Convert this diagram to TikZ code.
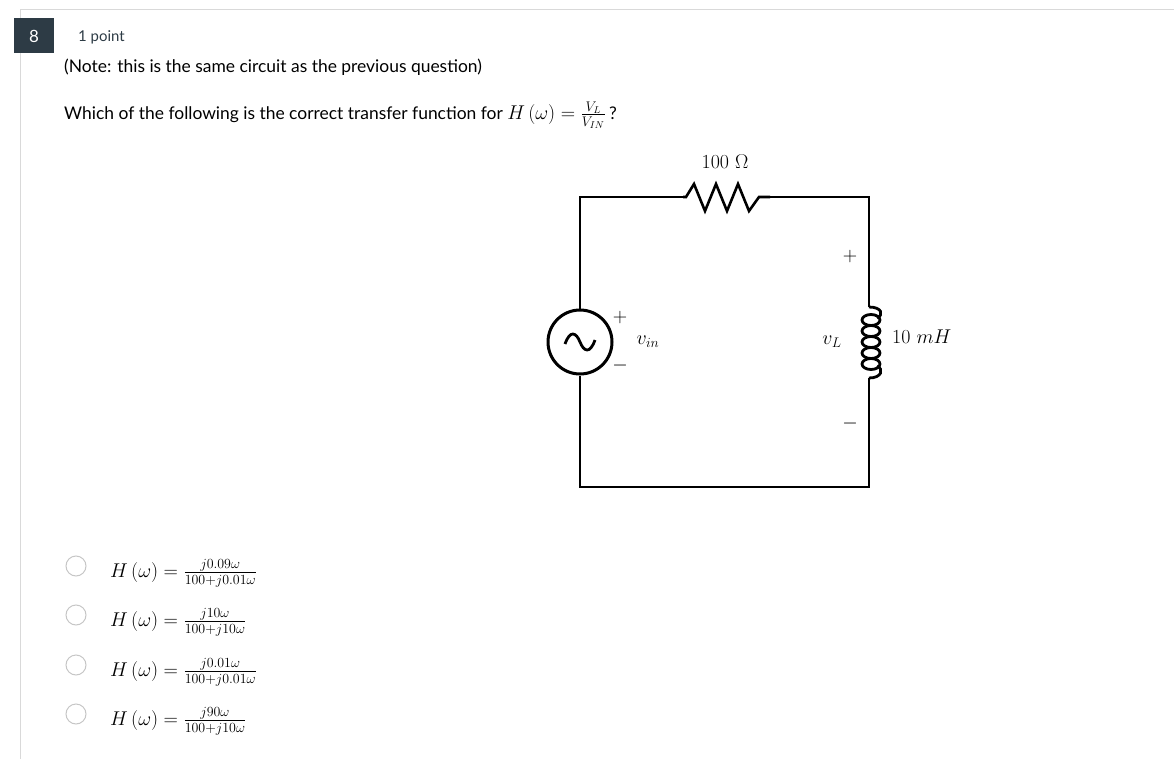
\RequirePackage{fix-cm}
\documentclass[tikz,border=0pt]{standalone}
\usepackage{fontspec}
\usepackage{amsmath}
\newfontfamily\lato{Lato}
\begin{document}
\begin{tikzpicture}[x=1bp,y=-1bp,
  ui/.style={font=\lato\fontsize{17.5}{20}\selectfont,anchor=west,inner sep=0},
  wire/.style={line width=1.8bp,black},
  lbl/.style={font=\fontsize{20}{22}\selectfont,inner sep=0},
  radio/.style={draw=gray!45,line width=1bp,circle,minimum size=20bp,inner sep=0},
  opt/.style={font=\fontsize{20}{22}\selectfont,anchor=west,inner sep=0}]
\useasboundingbox (0,0) rectangle (1174,759);
\draw[gray!30,line width=1bp] (20,10) -- (1174,10);
\draw[gray!30,line width=1bp] (20,10) -- (20,759);
\node[fill={rgb,255:red,45;green,59;blue,69},minimum width=40bp,minimum height=35bp,inner sep=0,text=white,font=\lato\fontsize{17}{18}\selectfont] (num) at (34,36) {8};
\node[ui,text={rgb,255:red,45;green,59;blue,69}] (pt) at (78,37) {\fontsize{15}{16}\selectfont 1 point};
\node[ui] (note) at (64,67) {(Note: this is the same circuit as the previous question)};
\node[ui] (q) at (64,115) {Which of the following is the correct transfer function for \fontsize{20}{22}\selectfont $H\left(\omega\right)=\frac{V_L}{V_{IN}}$\,\lato\fontsize{17.5}{20}\selectfont ?};
% circuit
\coordinate (tl) at (580,197); \coordinate (tr) at (869,197);
\coordinate (bl) at (580,487); \coordinate (br) at (869,487);
\coordinate (r1) at (683,197); \coordinate (r2) at (770,197);
\node[draw,circle,line width=3bp,minimum size=64bp,inner sep=0] (src) at (580,342) {};
\draw[line width=2.8bp] (565,344) .. controls (570,330) and (576,332) .. (580,342) .. controls (584,352) and (590,354) .. (595,340);
\coordinate (l1) at (869,307); \coordinate (l2) at (869,378);
\draw[wire] (src.north) -- (tl) -- (r1);
\draw[line width=2.6bp,line join=miter] (r1) -- (686,197) -- (694,184) -- (705,211) -- (716,184) -- (727,211) -- (738,184) -- (749,211) -- (759,197) -- (r2);
\draw[wire] (r2) -- (tr) -- (l1);
\draw[wire] (l2) -- (br) -- (bl) -- (src.south);
\draw[line width=2.8bp] (l1) .. controls (882,307) and (884,315) .. (877,318);
\foreach \y in {320,331,342,353,364} \draw[line width=2.8bp] (871,\y) ellipse (9 and 5.5);
\draw[line width=2.8bp] (877,366) .. controls (884,369) and (882,378) .. (l2);
\node[lbl] (res) at (725,162) {$100\ \Omega$};
\node[lbl] (pl1) at (620,318) {$+$};
\node[lbl] (mi1) at (620,366) {$-$};
\node[lbl] (vin) at (648,342) {$v_{in}$};
\node[lbl] (pl2) at (850,257) {$+$};
\node[lbl] (mi2) at (850,424) {$-$};
\node[lbl] (vl) at (832,342) {$v_L$};
\node[lbl,anchor=west] (ind) at (892,337) {$10\ mH$};
% options
\foreach \y/\n/\d [count=\i] in {566/j0.09\omega/100{+}j0.01\omega, 615/j10\omega/100{+}j10\omega, 665/j0.01\omega/100{+}j0.01\omega, 714/j90\omega/100{+}j10\omega}{
  \node[radio] (r\i) at (76,\y) {};
  \node[opt] (o\i) at (110,\y+7) {$H\left(\omega\right)=\frac{\n}{\d}$};
}
\end{tikzpicture}
\end{document}
